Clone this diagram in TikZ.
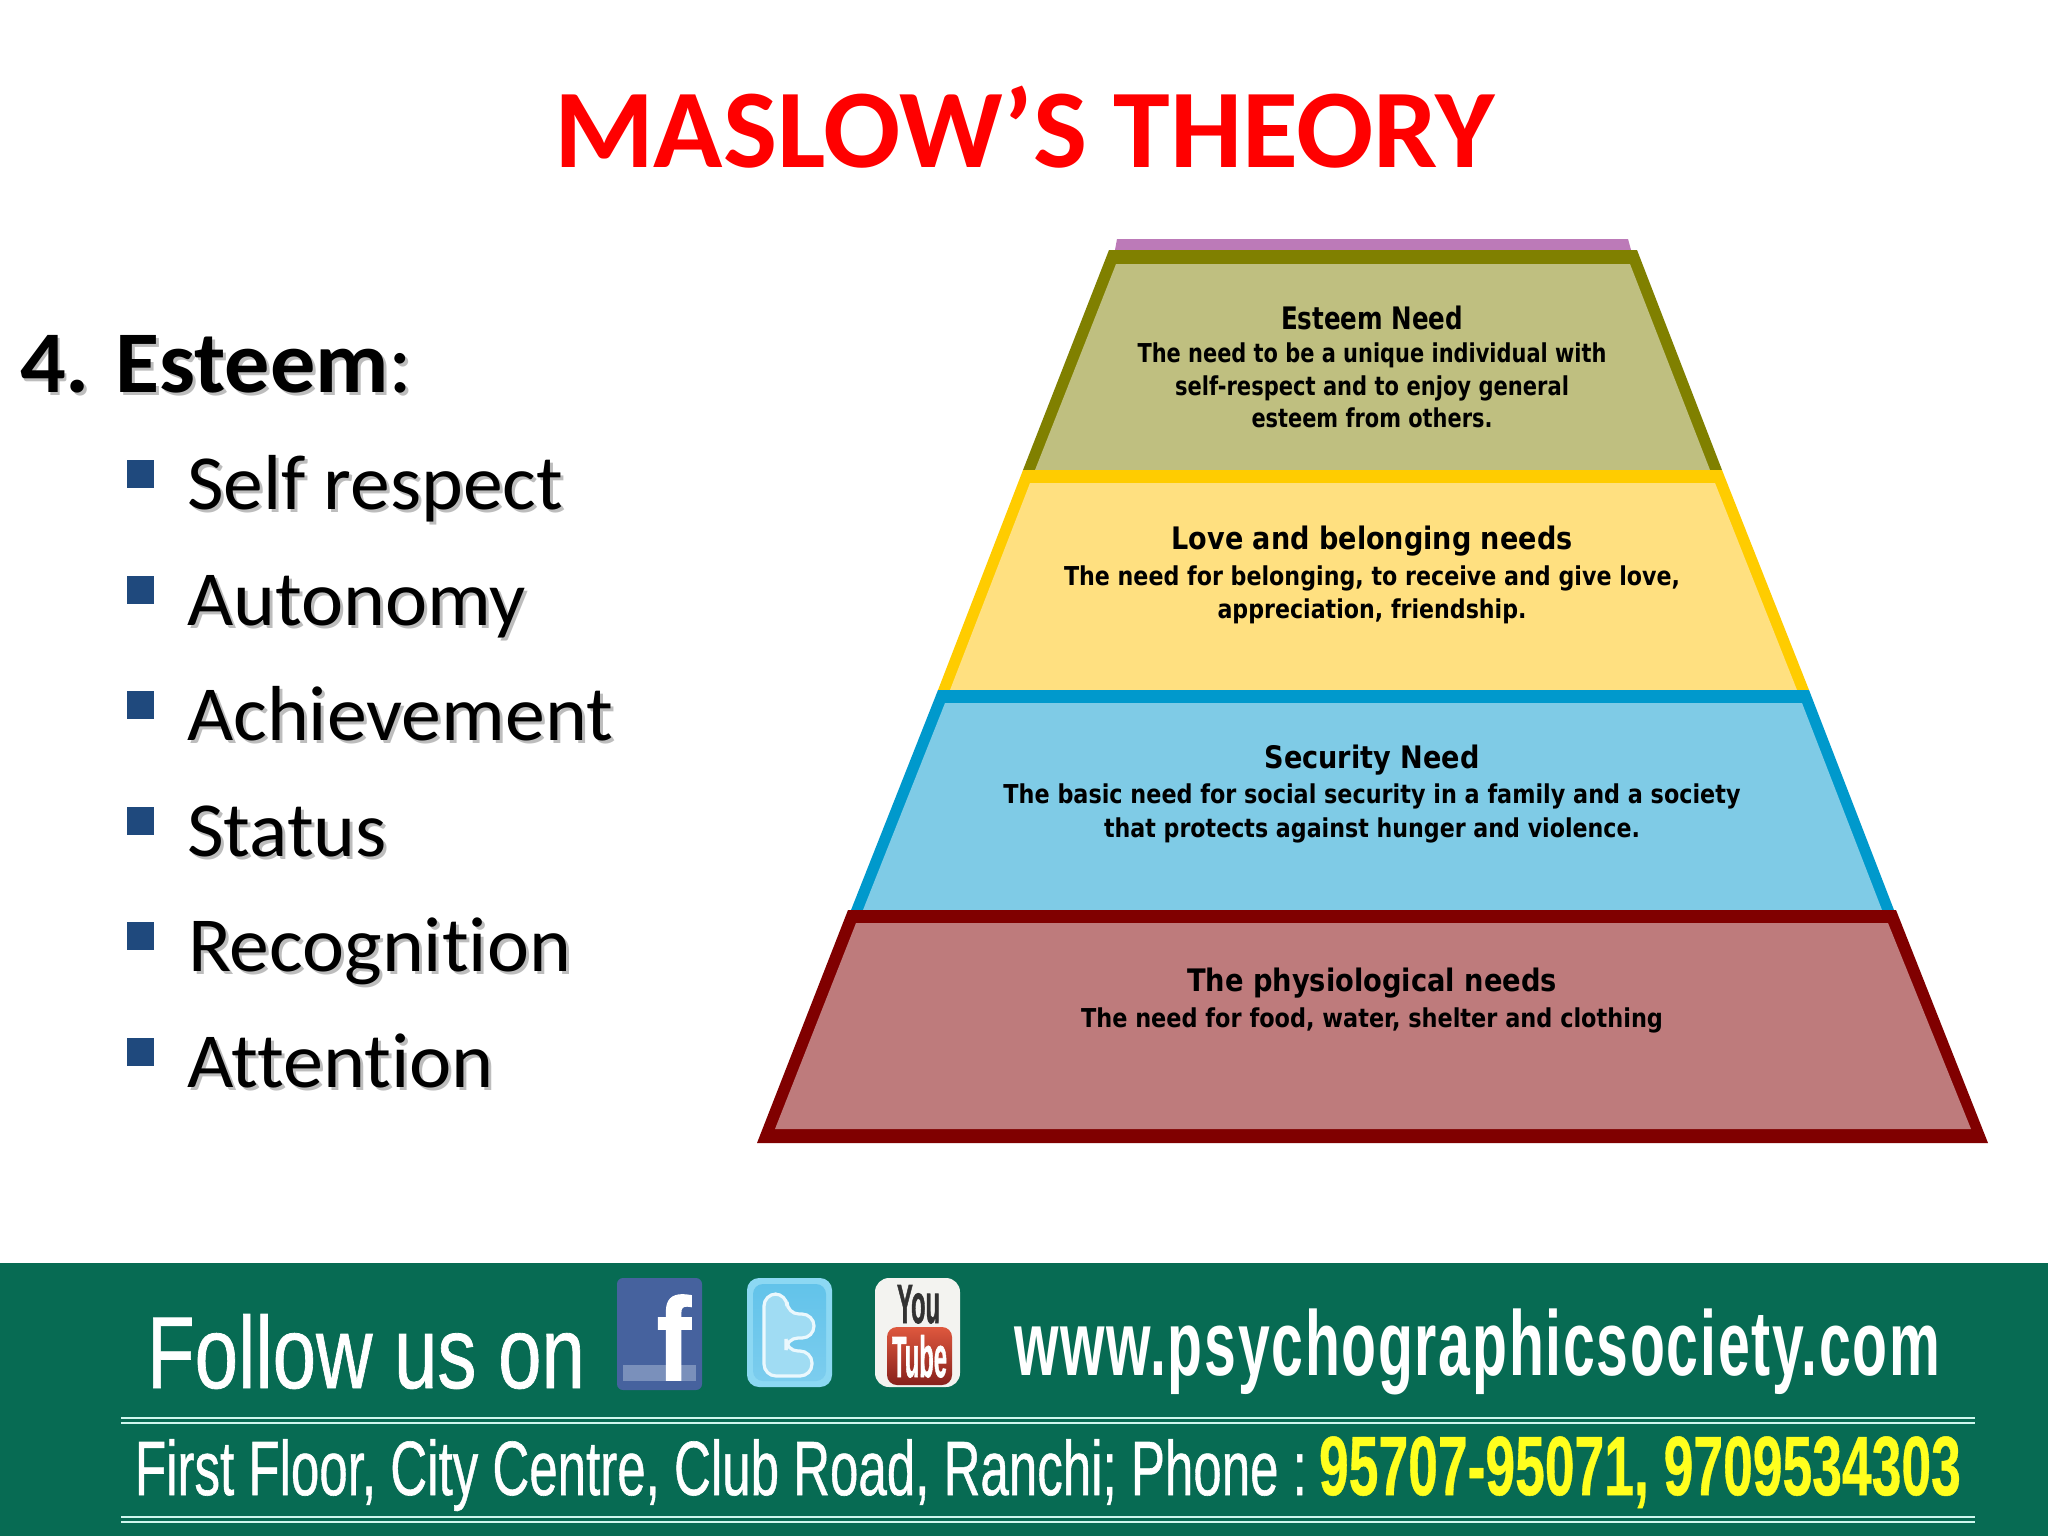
\documentclass[tikz,border=0pt]{standalone}
\usepackage{graphicx}
\usepackage{fontspec}
\setmainfont[Ligatures=CommonOff]{Carlito}
\newfontfamily\arialf[FakeBold=0.8]{Liberation Sans}
\newfontfamily\arialbf[LetterSpace=3]{Liberation Sans Bold}
\newfontfamily\arialnum[FakeBold=0.6]{Liberation Sans Bold}
\newfontfamily\iconf[FakeBold=1.5]{Liberation Sans Bold}
\newfontfamily\pyrf{DejaVu Sans Bold}
\definecolor{titlered}{HTML}{FF0000}
\definecolor{bulletblue}{HTML}{1F497D}
\definecolor{shadowgrey}{HTML}{BDBDBD}
\definecolor{bandgreen}{HTML}{076B53}
\definecolor{bandline}{HTML}{CFF7EE}
\definecolor{numyellow}{HTML}{FFFF1E}
\definecolor{toppurple}{HTML}{BC7AB8}
\definecolor{olivebd}{HTML}{808000}
\definecolor{olivefl}{HTML}{BFBF80}
\definecolor{yellowbd}{HTML}{FFCC00}
\definecolor{yellowfl}{HTML}{FFE080}
\definecolor{bluebd}{HTML}{0099CC}
\definecolor{bluefl}{HTML}{7FCBE6}
\definecolor{redbd}{HTML}{800000}
\definecolor{redfl}{HTML}{BE7B7C}
\definecolor{fbblue}{HTML}{46629E}
\definecolor{fbband}{HTML}{7A90BB}
\definecolor{twrim}{HTML}{8CD8F3}
\definecolor{twtop}{HTML}{62C3EA}
\definecolor{twbot}{HTML}{7CCDEE}
\definecolor{twline}{HTML}{EBF8FD}
\definecolor{twin}{HTML}{A0DCF3}
\definecolor{ytwhite}{HTML}{F3F3F0}
\definecolor{ytdark}{HTML}{323232}
\definecolor{yttop}{HTML}{DE583E}
\definecolor{ytbot}{HTML}{87201C}
\newcommand{\fitw}[2]{\resizebox{\dimexpr #1pt/2\relax}{\height}{#2}}
\newcommand{\fitwh}[3]{\resizebox{\dimexpr #1pt/2\relax}{\dimexpr #2pt/2\relax}{#3}}
\tikzset{
  x=0.5pt,y=-0.5pt,
  txt/.style={inner sep=0pt,outer sep=0pt,anchor=base west},
  ctxt/.style={inner sep=0pt,outer sep=0pt,anchor=base,text=black},
  bullet/.style={fill=bulletblue,draw=none},
  bandrule/.style={draw=bandline,line width=1.1pt},
}
% label with its grey drop shadow: name, x, baseline, width, text
\newcommand{\shlab}[5]{%
  \node[txt,text=shadowgrey] (#1s) at (#2+3,#3+3) {\fitw{#4}{#5}};
  \node[txt,text=black] (#1) at (#2,#3) {\fitw{#4}{#5}};
}
\newcommand{\pyrhead}[4]{\node[ctxt] (#1) at (1372,#2) {\pyrf\fontsize{15.5pt}{17pt}\selectfont\fitw{#3}{#4}};}
\newcommand{\pyrbody}[4]{\node[ctxt] (#1) at (1372,#2) {\pyrf\fontsize{13pt}{15pt}\selectfont\fitw{#3}{#4}};}
\begin{document}
\begin{tikzpicture}
\useasboundingbox (0,0) rectangle (2048,1536);
\fill[white] (0,0) rectangle (2048,1536);

% title
\node[txt,text=titlered] (title) at (554,167) {\fontsize{56pt}{60pt}\selectfont\bfseries\fitw{941}{MASLOW’S THEORY}};

% heading and list
\shlab{head}{20}{392}{393}{\fontsize{44pt}{48pt}\selectfont\textbf{4.\ \kern2.5pt Esteem}:}
\fill[bullet] (127,460) rectangle (154,488);
\fill[bullet] (127,576) rectangle (154,604);
\fill[bullet] (127,691) rectangle (154,719);
\fill[bullet] (127,807) rectangle (154,835);
\fill[bullet] (127,922) rectangle (154,950);
\fill[bullet] (127,1038) rectangle (154,1066);
\shlab{i1}{187}{509}{376}{\fontsize{39pt}{42pt}\selectfont Self respect}
\shlab{i2}{187}{625}{339}{\fontsize{39pt}{42pt}\selectfont Autonomy}
\shlab{i3}{187}{740}{426}{\fontsize{39pt}{42pt}\selectfont Achievement}
\shlab{i4}{187}{856}{200}{\fontsize{39pt}{42pt}\selectfont Status}
\shlab{i5}{188}{971}{383}{\fontsize{39pt}{42pt}\selectfont Recognition}
\shlab{i6}{187}{1087}{307}{\fontsize{39pt}{42pt}\selectfont Attention}

% pyramid
\fill[toppurple] (1117,239) -- (1628,239) -- (1631,250) -- (1115,250) -- cycle;
\fill[olivebd] (1109,250) -- (1637,250) -- (1722,470) -- (1023,470) -- cycle;
\fill[olivefl] (1116,264) -- (1630,264) -- (1710,470) -- (1035,470) -- cycle;
\fill[yellowbd] (1023,470) -- (1722,470) -- (1809,690) -- (938,690) -- cycle;
\fill[yellowfl] (1030,483) -- (1715,483) -- (1797,690) -- (950,690) -- cycle;
\fill[bluebd] (938,690) -- (1809,690) -- (1894,910) -- (851,910) -- cycle;
\fill[bluefl] (945,703) -- (1802,703) -- (1882,910) -- (863,910) -- cycle;
\fill[redbd] (848,910) -- (1896,910) -- (1988,1143) -- (757,1143) -- cycle;
\fill[redfl] (856,923) -- (1888,923) -- (1971,1129) -- (775,1129) -- cycle;

\pyrhead{e0}{329}{182}{Esteem Need}
\pyrbody{e1}{362}{469}{The need to be a unique individual with}
\pyrbody{e2}{395}{394}{self-respect and to enjoy general}
\pyrbody{e3}{427}{241}{esteem from others.}
\pyrhead{l0}{549}{401}{Love and belonging needs}
\pyrbody{l1}{585}{616}{The need for belonging, to receive and give love,}
\pyrbody{l2}{618}{309}{appreciation, friendship.}
\pyrhead{s0}{768}{215}{Security Need}
\pyrbody{s1}{803}{737}{The basic need for social security in a family and a society}
\pyrbody{s2}{837}{536}{that protects against hunger and violence.}
\pyrhead{p0}{991}{370}{The physiological needs}
\pyrbody{p1}{1027}{582}{The need for food, water, shelter and clothing}

% footer band
\fill[bandgreen] (0,1263) rectangle (2048,1536);
\draw[bandrule] (121,1418) -- (1975,1418);
\draw[bandrule] (121,1423) -- (1975,1423);
\draw[bandrule] (121,1517) -- (1975,1517);
\draw[bandrule] (121,1522) -- (1975,1522);

\node[txt,text=white] (follow) at (147,1388) {\arialf\fontsize{51pt}{54pt}\selectfont\fitw{438}{Follow us on}};
\node[txt,text=white] (web) at (1014,1375) {\arialbf\fontsize{46pt}{50pt}\selectfont\fitw{926}{www.psychographicsociety.com}};
\node[txt,text=white] (addr) at (135,1495) {\arialf\fontsize{38.5pt}{42pt}\selectfont\fitw{1172}{First Floor, City Centre, Club Road, Ranchi; Phone :}};
\node[txt,text=numyellow] (phone) at (1319,1495) {\arialnum\fontsize{42pt}{46pt}\selectfont\fitw{642}{95707-95071, 9709534303}};

% facebook icon
\fill[rounded corners=3pt,fbblue] (617,1278) rectangle (702,1390);
\fill[fbband] (623,1365) rectangle (696,1381);
\node[txt,text=white] (fbf) at (657,1380) {\iconf\fitwh{34}{85}{f}};

% twitter icon
\fill[rounded corners=6pt,twrim] (747,1278) rectangle (832,1387);
\shade[rounded corners=5pt,top color=twtop,bottom color=twbot] (753,1284) rectangle (826,1381);
\draw[rounded corners=6pt,draw=twline,fill=twin,line width=1.6pt]
  (764,1294) -- (787,1294) -- (787,1314) -- (814,1314) -- (814,1338) -- (786,1338) -- (786,1351) -- (812,1351) -- (812,1376) -- (764,1376) -- cycle;

% youtube icon
\fill[rounded corners=7pt,ytwhite] (875,1278) rectangle (960,1387);
\node[txt,text=ytdark] (ytyou) at (897,1323) {\iconf\fitwh{43}{38}{You}};
\shade[rounded corners=5pt,top color=yttop,bottom color=ytbot] (887,1327) rectangle (952,1385);
\node[txt,text=white] (yttube) at (892,1377) {\iconf\fitwh{55}{42}{Tube}};
\end{tikzpicture}
\end{document}
